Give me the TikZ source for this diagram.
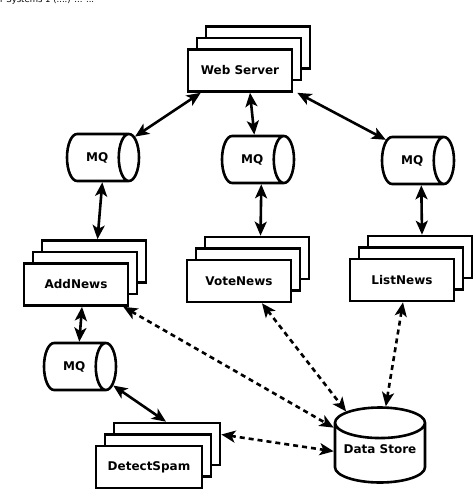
\documentclass[tikz,border=0pt]{standalone}
\usepackage{fontspec}
\setmainfont{DejaVu Sans}
\usetikzlibrary{shapes.geometric,arrows.meta,calc}
\tikzset{
  lbl/.style={font=\bfseries\fontsize{12}{14}\selectfont},
  box/.style={lbl, draw, line width=2.6pt, fill=white, minimum width=104pt, minimum height=42pt, inner sep=0pt},
  mq/.style={lbl, cylinder, anchor=shape center, draw, line width=2.6pt, fill=white, shape border rotate=0, aspect=1.9, minimum width=47pt, minimum height=72pt, inner sep=0pt},
  store/.style={lbl, cylinder, anchor=shape center, draw, line width=2.6pt, fill=white, shape border rotate=90, aspect=0.42, minimum width=90pt, minimum height=75pt, inner sep=0pt},
  conn/.style={line width=2.6pt, {Stealth[length=14pt,width=12pt,inset=3.5pt]}-{Stealth[length=14pt,width=12pt,inset=3.5pt]}},
  dconn/.style={conn, dash pattern=on 5pt off 4pt},
}
\newcommand{\stackbox}[5][104pt]{%
  \node[box, minimum width=#1] (#2c) at (#3+18,#4-23) {};
  \node[box, minimum width=#1] (#2b) at (#3+9,#4-11.5) {};
  \node[box, minimum width=#1] (#2) at (#3,#4) {#5};
}
\begin{document}
\begin{tikzpicture}[x=1pt,y=-1pt]
\useasboundingbox (0,0) rectangle (474,489);
\node[anchor=north west, inner sep=0pt, font=\fontsize{8.5}{9}\selectfont] (cap) at (0,-4) {r Systems 1 (....) ... ...};
% stacks
\stackbox{ws}{240}{70.5}{Web Server}
\stackbox{an}{76}{284.5}{AddNews}
\stackbox{vn}{239}{281}{VoteNews}
\stackbox{ln}{402}{280}{ListNews}
\stackbox[106pt]{ds}{149}{467}{DetectSpam}
% queues
\node[mq] (mq1) at (103,157.5) {MQ};
\node[mq] (mq2) at (258,159.5) {MQ};
\node[mq] (mq3) at (418,160.5) {MQ};
\node[mq] (mq4) at (80,366.5) {MQ};
% data store
\node[store] (st) at (380,445) {\phantom{Data Store}};
\node[lbl, inner sep=0pt] (sttext) at (380,449) {Data Store};
% solid connectors
\draw[conn] ([xshift=14pt]ws.south west) -- (mq1.29);
\draw[conn] ([xshift=10pt]ws.south) -- ([xshift=2pt]mq2.north);
\draw[conn] ([xshift=4pt]ws.south east) -- (mq3.142);
\draw[conn] ([xshift=5pt]mq1.south) -- ([xshift=3.5pt]anc.north);
\draw[conn] ([xshift=9pt]mq2.south) -- ([xshift=3.5pt]vnc.north);
\draw[conn] ([xshift=9pt]mq3.south) -- ([xshift=2pt]lnc.north);
\draw[conn] ([xshift=6pt]an.south) -- ([xshift=5pt]mq4.north);
\draw[conn] (mq4.-26) -- ([xshift=-1pt]dsc.north);
% dashed connectors
\draw[dconn] ([xshift=-6pt]an.south east) -- (st.151);
\draw[dconn] ([xshift=23pt]vn.south) -- (st.129);
\draw[dconn] ([xshift=1pt]ln.south) -- (st.83);
\draw[dconn] ([yshift=9.5pt]dsc.east) -- ([yshift=2pt]st.west);
\end{tikzpicture}
\end{document}
